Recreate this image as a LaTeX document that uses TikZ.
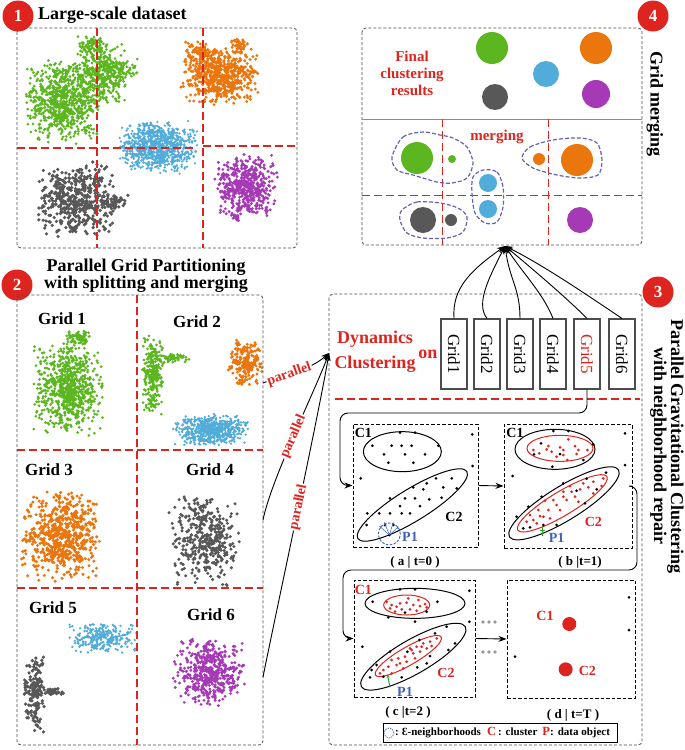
\documentclass[tikz,border=0pt]{standalone}
\usepackage{fontspec}
\setmainfont{Liberation Serif}
\usetikzlibrary{arrows.meta}
\definecolor{cgreen}{RGB}{92,182,32}
\definecolor{corange}{RGB}{236,118,14}
\definecolor{cblue}{RGB}{82,172,218}
\definecolor{cgray}{RGB}{88,88,88}
\definecolor{cpurple}{RGB}{166,58,182}
\definecolor{cred}{RGB}{222,36,30}
\definecolor{cblob}{RGB}{98,98,186}
\definecolor{cpblue}{RGB}{62,98,184}
\definecolor{cgarrow}{RGB}{30,170,40}
\newcommand\scat[7]{\fill[#6]\foreach \i in {1,...,#5}{({#1+#3*(rand+rand)/2},{#2+#4*(rand+rand)/2}) circle[radius=#7pt]};}
\newcommand\pts[3]{\fill[#1]\foreach \p in {#3}{\p circle[radius=#2pt]};}
\tikzset{
  dbox/.style={draw=black!70, dash pattern=on 3pt off 2pt, rounded corners=4pt, line width=0.8pt},
  rdash/.style={draw=cred, dash pattern=on 8pt off 4pt, line width=1.2pt},
  badge/.style={circle, fill=cred, text=white, minimum size=31pt, inner sep=0pt, font=\fontsize{17}{17}\selectfont\bfseries},
  ttl/.style={font=\fontsize{18}{17}\selectfont\bfseries, inner sep=0pt},
  rtxt/.style={text=cred, font=\fontsize{15}{17}\selectfont\bfseries, inner sep=0pt, align=center},
  glab/.style={font=\fontsize{17}{17}\selectfont\bfseries, inner sep=0pt},
  subbox/.style={draw=black, dash pattern=on 3.5pt off 2pt, line width=1pt, inner sep=0pt},
  gbox/.style={draw=black!70, line width=1.2pt, rotate=-90, minimum width=70pt, minimum height=26pt, inner sep=0pt, font=\fontsize{17}{17}\selectfont},
  clab/.style={font=\fontsize{14}{14}\selectfont\bfseries, inner sep=0pt},
  slab/.style={font=\fontsize{13}{13}\selectfont\bfseries, inner sep=0pt},
  plab/.style={text=cred, fill=white, font=\fontsize{14}{14}\selectfont\bfseries, inner sep=1pt, sloped},
  arr/.style={-{Stealth[length=8pt,width=6pt]}, line width=0.9pt},
  nb/.style={draw=cblob, dash pattern=on 4pt off 2pt, line width=1.2pt},
}
\begin{document}
\begin{tikzpicture}[x=1pt,y=-1pt]
\useasboundingbox (0,0) rectangle (685,750);
\pgfmathsetseed{7}
% ---------------- Panel 1
\begin{scope}
\clip (17,28) rectangle (297,248);
\scat{62}{102}{40}{44}{750}{cgreen}{1.5}
\scat{100}{75}{28}{32}{380}{cgreen}{1.5}
\scat{122}{68}{18}{10}{70}{cgreen}{1.5}
\scat{92}{45}{16}{10}{80}{cgreen}{1.5}
\scat{220}{75}{40}{30}{600}{corange}{1.6}
\scat{200}{55}{18}{14}{90}{corange}{1.6}
\scat{240}{45}{10}{8}{40}{corange}{1.6}
\scat{158}{147}{40}{27}{850}{cblue}{1.3}
\scat{75}{200}{40}{40}{480}{cgray}{1.8}
\scat{112}{202}{18}{8}{60}{cgray}{1.8}
\scat{246}{186}{32}{32}{500}{cpurple}{1.6}
\scat{236}{218}{6}{4}{15}{cpurple}{1.6}
\end{scope}
\draw[dbox] (17,28) rectangle (297,248);
\draw[rdash] (97,28) -- (97,248);
\draw[rdash] (203,28) -- (203,248);
\draw[rdash] (17,148) -- (197,148);
\draw[rdash] (203,146) -- (297,146);
\node[badge] (b1) at (18,16) {1};
\node[ttl, anchor=west] (t1) at (38,15) {Large-scale dataset};
% ---------------- Panel 4
\draw[dbox] (362,28) rectangle (642,245);
\draw[black!45, line width=1pt] (362,119) -- (642,119);
\draw[rdash, line width=1pt] (442,119) -- (442,245);
\draw[rdash, line width=1pt] (548,119) -- (548,245);
\draw[rdash, line width=1pt] (362,195) -- (642,195);
\node[rtxt] (fin) at (412,73) {Final\\clustering\\results};
\fill[cgreen] (492,48) circle[radius=16pt];
\fill[corange] (596,48) circle[radius=16pt];
\fill[cblue] (546,74) circle[radius=13pt];
\fill[cgray] (495,97) circle[radius=13pt];
\fill[cpurple] (596,94) circle[radius=14pt];
\node[rtxt] (mrg) at (497,137) {merging};
\fill[cgreen] (417,158) circle[radius=16pt];
\fill[cgreen] (452,159) circle[radius=4pt];
\fill[corange] (539,159) circle[radius=6pt];
\fill[corange] (577,160) circle[radius=16pt];
\fill[cblue] (488,183) circle[radius=9pt];
\fill[cblue] (488,209) circle[radius=9pt];
\fill[cgray] (423,220) circle[radius=13pt];
\fill[cgray] (451,220) circle[radius=6pt];
\fill[cpurple] (580,220) circle[radius=13pt];
\draw[nb] plot[smooth cycle] coordinates {(392,157) (403,137) (423,132) (440,135) (453,138) (467,147) (473,163) (467,178) (452,183) (437,182) (413,175) (397,170)};
\draw[nb] plot[smooth cycle] coordinates {(522,158) (530,147) (553,140) (580,138) (597,143) (602,160) (598,175) (580,178) (557,175) (533,168)};
\draw[nb] plot[smooth cycle] coordinates {(483,170) (497,172) (503,187) (503,207) (497,222) (485,223) (475,213) (472,193) (473,177)};
\draw[nb] plot[smooth cycle] coordinates {(402,210) (417,202) (440,203) (458,208) (467,217) (463,232) (447,238) (423,238) (407,233) (400,220)};
\node[badge] (b4) at (653,16) {4};
\node[ttl, rotate=-90] (t4) at (655,104) {Grid merging};
% ---------------- Panel 2
\node[badge] (b2) at (17,285) {2};
\node[ttl, align=center] (t2) at (146,276) {Parallel Grid Partitioning\\with splitting and merging};
\begin{scope}
\clip (17,295) rectangle (137,450);
\scat{68}{387}{37}{50}{750}{cgreen}{1.5}
\scat{78}{338}{15}{8}{70}{cgreen}{1.5}
\end{scope}
\begin{scope}
\clip (137,295) rectangle (263,450);
\scat{153}{373}{12}{44}{260}{cgreen}{1.5}
\scat{172}{358}{18}{5}{60}{cgreen}{1.5}
\scat{246}{363}{18}{25}{200}{corange}{1.6}
\scat{211}{430}{40}{16}{600}{cblue}{1.3}
\end{scope}
\begin{scope}
\clip (17,450) rectangle (137,588);
\scat{60}{535}{40}{47}{650}{corange}{1.7}
\end{scope}
\begin{scope}
\clip (137,450) rectangle (263,588);
\scat{205}{540}{37}{47}{420}{cgray}{1.7}
\end{scope}
\begin{scope}
\clip (17,588) rectangle (137,745);
\scat{102}{638}{37}{15}{280}{cblue}{1.3}
\scat{35}{692}{12}{42}{160}{cgray}{1.8}
\scat{52}{692}{14}{4}{40}{cgray}{1.8}
\end{scope}
\begin{scope}
\clip (137,588) rectangle (263,745);
\scat{210}{672}{37}{35}{500}{cpurple}{1.6}
\end{scope}
\draw[dbox] (17,295) rectangle (263,745);
\draw[rdash] (137,295) -- (137,745);
\draw[rdash] (17,450) -- (263,450);
\draw[rdash] (17,588) -- (263,588);
\node[glab] (gl1) at (62,319) {Grid 1};
\node[glab] (gl2) at (197,322) {Grid 2};
\node[glab] (gl3) at (49,470) {Grid 3};
\node[glab] (gl4) at (210,470) {Grid 4};
\node[glab] (gl5) at (53,608) {Grid 5};
\node[glab] (gl6) at (211,615) {Grid 6};
% ---------------- Panel 3
\draw[dbox] (329,294) rectangle (642,745);
\node[badge] (b3) at (658,292) {3};
\node[ttl, rotate=-90, align=center] (t3) at (667,446) {Parallel Gravitational Clustering\\with neighborhood repair};
\node[ttl, text=cred, align=center, font=\fontsize{18}{25}\selectfont\bfseries] (dyn) at (375,352) {Dynamics\\Clustering};
\node[ttl, text=cred] (on) at (428,354) {on};
\node[gbox] (g1) at (454,354) {Grid1};
\node[gbox] (g2) at (487,354) {Grid2};
\node[gbox] (g3) at (520,354) {Grid3};
\node[gbox] (g4) at (553,354) {Grid4};
\node[gbox, text=cred] (g5) at (587,354) {Grid5};
\node[gbox] (g6) at (622,354) {Grid6};
\draw[rdash] (335,399) -- (640,399);
\coordinate (m4) at (505,246);
\draw[arr] (g1.west) .. controls +(-2,-30) and +(-35,25) .. (m4);
\draw[arr] (g2.west) .. controls +(-12,-15) and +(-15,30) .. (m4);
\draw[arr] (g3.west) .. controls +(0,-30) and +(5,35) .. (m4);
\draw[arr] (g4.west) .. controls +(-10,-25) and +(20,30) .. (m4);
\draw[arr] (g5.west) .. controls +(-20,-20) and +(30,25) .. (m4);
\draw[arr] (g6.west) .. controls +(-30,-20) and +(40,20) .. (m4);
% panel 2 -> 3
\coordinate (s1) at (263,383);
\coordinate (s2) at (263,520);
\coordinate (s3) at (263,677);
\coordinate (e3) at (329,353);
\draw[arr] (s1) .. controls +(12,-5) and +(-20,18) .. node[plab, pos=0.45] (pl1) {parallel} (e3);
\draw[arr] (s2) .. controls +(8,-40) and +(-15,40) .. node[plab, pos=0.5] (pl2) {parallel} (e3);
\draw[arr] (s3) .. controls +(12,-60) and +(-10,60) .. node[plab, pos=0.52] (pl3) {parallel} (e3);
% sub-panels
\node[subbox, minimum width=125pt, minimum height=123pt] (pa) at (415.5,485.5) {};
\node[subbox, minimum width=128pt, minimum height=124pt] (pb) at (568,486) {};
\node[subbox, minimum width=121pt, minimum height=117pt] (pc) at (414.5,638.5) {};
\node[subbox, minimum width=128pt, minimum height=118pt] (pd) at (571,639) {};
\node[slab] (la) at (415,562) {( a | t=0 )};
\node[slab] (lb) at (580,562) {( b |t=1)};
\node[slab] (lc) at (408,712) {( c |t=2 )};
\node[slab] (ld) at (573,715) {( d | t=T )};
\draw[arr, rounded corners=8pt] (g5.east) -- (587,413) -- (340,413) -- (340,485.5) -- (pa.west);
\draw[arr] (pa.east) -- (pb.west);
\draw[arr, rounded corners=8pt] (pb.east) -- (637,486) -- (637,570) -- (343,570) -- (343,638.5) -- (pc.west);
\draw[arr] (pc.east) -- (pd.west);
\fill[black!40] (483,622) circle[radius=1.8pt] (489,622) circle[radius=1.8pt] (495,622) circle[radius=1.8pt];
\fill[black!40] (483,652) circle[radius=1.8pt] (489,652) circle[radius=1.8pt] (495,652) circle[radius=1.8pt];
% (a) and (b) in zoom coordinates
\begin{scope}[shift={(330,400)}, x=0.33333pt, y=-0.33333pt]
\draw[line width=1pt] (217,155) ellipse[x radius=39pt, y radius=20pt];
\draw[line width=1pt] (247,315) ellipse[x radius=64pt, y radius=16pt, rotate=31.6];
\pts{black}{1.5}{(210,98),(255,98),(127,137),(185,137),(215,137),(245,137),(325,137),(162,163),(225,163),(285,163),(175,188),(250,188),(427,103),(92,235),(428,198),(365,235),(318,235),(290,250),(250,262),(280,268),(340,262),(380,265),(180,295),(225,295),(255,295),(298,298),(335,293),(210,318),(270,318),(112,340),(148,340),(180,340),(215,340),(240,340),(110,375),(165,375),(190,375),(178,405)}
\draw[cpblue, dash pattern=on 2.5pt off 1.5pt, line width=0.9pt] (178,402) circle[radius=11pt];
\draw[cpblue, line width=0.5pt, -{Stealth[length=2.5pt]}] (178,405) -- (148,378);
\draw[cpblue, line width=0.5pt, -{Stealth[length=2.5pt]}] (178,405) -- (163,366);
\draw[cpblue, line width=0.5pt, -{Stealth[length=2.5pt]}] (178,405) -- (190,366);
\draw[cpblue, line width=0.5pt, -{Stealth[length=2.5pt]}] (178,405) -- (206,380);
\node[clab] (ac1) at (100,100) {C1};
\node[clab] (ac2) at (372,350) {C2};
\node[clab, text=cpblue] (ap1) at (240,412) {P1};
% (b)
\draw[line width=1pt] (675,148) ellipse[x radius=40pt, y radius=20pt];
\draw[cred, line width=1pt] (690,145) ellipse[x radius=33pt, y radius=13pt];
\draw[line width=1pt] (702,310) ellipse[x radius=64pt, y radius=17pt, rotate=31.6];
\draw[cred, line width=1pt] (697,310) ellipse[x radius=52pt, y radius=12pt, rotate=31];
\pts{black}{1.5}{(670,93),(715,93),(633,130),(790,133),(690,162),(667,200),(760,180),(612,163),(885,100),(548,228),(885,195),(828,218),(770,236),(635,290),(800,268),(580,385),(600,382),(640,375),(680,375),(765,310),(595,320),(560,350),(700,250),(740,272)}
\pts{cred}{1.5}{(610,150),(628,160),(650,148),(665,155),(700,150),(715,118),(745,150),(772,150),(740,162),(700,165),(712,180),(655,138),(690,142),(735,138),(680,170),(820,235),(790,245),(775,262),(815,258),(750,268),(725,275),(790,280),(700,275),(735,290),(670,300),(645,302),(710,300),(680,315),(600,345),(630,348),(660,355),(610,360),(590,365),(690,330),(745,305),(720,258),(760,250),(655,330),(625,330),(700,290),(620,370),(640,350)}
\draw[cgarrow, line width=1pt] (637,408) -- (637,382);
\draw[cgarrow, line width=1pt] (629,392) -- (645,392);
\node[clab] (bc1) at (555,98) {C1};
\node[clab, text=cred] (bc2) at (790,365) {C2};
\node[clab, text=cpblue] (bp1) at (680,415) {P1};
\end{scope}
% (c) and (d)
\begin{scope}[shift={(330,580)}, x=0.33333pt, y=-0.33333pt]
\draw[line width=1pt] (255,70) ellipse[x radius=50pt, y radius=15pt];
\draw[cred, line width=1pt] (230,75) ellipse[x radius=23pt, y radius=10pt];
\draw[line width=1pt] (250,230) ellipse[x radius=60pt, y radius=17pt, rotate=30];
\draw[cred, line width=1pt] (235,228) ellipse[x radius=38pt, y radius=9pt, rotate=30];
\pts{black}{1.5}{(210,28),(255,28),(128,65),(322,65),(175,112),(255,125),(290,95),(225,98),(418,32),(418,125),(97,200),(350,140),(315,160),(268,180),(375,190),(180,215),(232,215),(355,210),(120,292),(160,290),(215,292),(300,228),(262,262),(140,255),(290,250),(125,270)}
\pts{cred}{1.5}{(170,65),(185,75),(200,80),(230,68),(250,75),(270,78),(285,72),(195,95),(215,88),(240,88),(260,92),(180,85),(290,82),(210,70),(265,60),(235,55),(320,175),(300,185),(280,190),(260,200),(240,205),(290,205),(270,215),(250,220),(225,230),(205,235),(185,240),(230,245),(200,255),(175,260),(160,270),(220,265),(150,280),(185,280),(255,235),(305,198),(210,250),(245,210),(275,200)}
\draw[cgarrow, line width=1pt, -{Stealth[length=4pt]}] (180,322) -- (172,282);
\node[clab, text=cred] (cc1) at (100,30) {C1};
\node[clab, text=cred] (cc2) at (348,278) {C2};
\node[clab, text=cpblue] (cp1) at (225,335) {P1};
% (d)
\pts{black}{1.5}{(897,52),(897,150),(555,230)}
\fill[cred] (718,132) circle[radius=7pt];
\fill[cred] (707,268) circle[radius=7pt];
\node[clab, text=cred] (dc1) at (645,108) {C1};
\node[clab, text=cred] (dc2) at (772,272) {C2};
\end{scope}
% legend
\node[draw, line width=0.8pt, minimum width=234pt, minimum height=19pt, inner sep=0pt] (leg) at (500,732.5) {};
\draw[cpblue, dash pattern=on 1.5pt off 1pt, line width=0.7pt] (389,733) circle[radius=5pt];
\node[anchor=west, inner sep=0pt, font=\fontsize{11}{11}\selectfont\bfseries] (legt) at (395,733) {:\hspace{3pt}Ɛ-neighborhoods\hspace{6pt}{\color{cred}\fontsize{12.5}{12.5}\selectfont C}\hspace{2pt}:\hspace{4pt}cluster\hspace{5pt}{\color{cred}\fontsize{12.5}{12.5}\selectfont P}:\hspace{4pt}data object};
\end{tikzpicture}
\end{document}
